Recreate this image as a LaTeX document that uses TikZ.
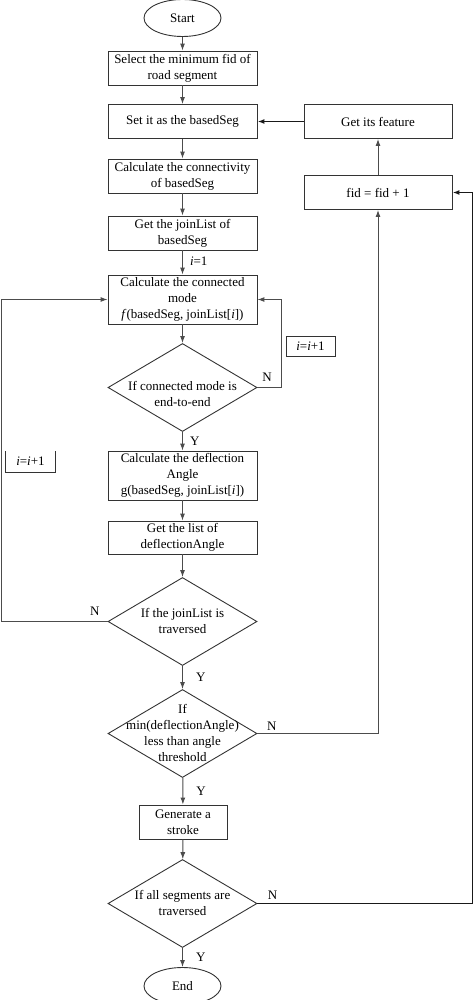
\documentclass[tikz,border=0pt]{standalone}
\usepackage{fontspec}
\setmainfont{Liberation Serif}
\usetikzlibrary{shapes.geometric, arrows.meta}
% text of a decision, kept out of the diamond size
\newcommand{\dtext}[2][-3.3pt]{\smash{\makebox[0pt]{\raisebox{#1}{\begin{tabular}{@{}c@{}}#2\end{tabular}}}}}

\begin{document}
\begin{tikzpicture}[x=1pt, y=-1pt,
    font=\fontsize{13}{16}\selectfont,
    box/.style={draw=black!80, line width=0.9pt, align=center, inner sep=2pt, minimum width=149pt, minimum height=34pt},
    term/.style={draw=black!80, line width=0.9pt, ellipse, inner sep=0pt, minimum width=77pt, minimum height=37pt},
    decision/.style={draw=black!80, line width=0.9pt, diamond, inner sep=0pt, minimum width=149pt, minimum height=88pt},
    incbox/.style={line width=0.9pt, inner sep=0pt, minimum width=49pt, minimum height=20pt},
    arr/.style={draw=black!70, line width=1pt, -{Latex[length=7pt,width=5pt]}},
    back/.style={draw=black!90, line width=1.4pt, -{Latex[length=7pt,width=5pt]}},
    lbl/.style={inner sep=1pt}]
    \useasboundingbox (0,0) rectangle (474,1000);
    % Colonne principale
    \node[term] (start) at (182.5,18) {Start};
    \node[box] (sel) at (182.5,68) {Select the minimum fid of\\road segment};
    \node[box] (set) at (182.5,121.5) {Set it as the basedSeg};
    \node[box] (conn) at (182.5,176) {Calculate the connectivity\\of basedSeg};
    \node[box] (join) at (182.5,233) {Get the joinList of\\basedSeg};
    \node[box, minimum height=49pt] (mode) at (182.5,299.5) {Calculate the connected\\mode\\\textit{f}(basedSeg, joinList[\textit{i}])};
    \node[decision] (d1) at (182.5,387.5) {\dtext[-10.5pt]{If connected mode is\\end-to-end}};
    \node[box, minimum height=49pt] (defl) at (182.5,475.5) {Calculate the deflection\\Angle\\g(basedSeg, joinList[\textit{i}])};
    \node[box, minimum height=33pt] (list) at (182.5,537.5) {Get the list of\\deflectionAngle};
    \node[decision] (d2) at (182.5,621.5) {\dtext{If the joinList is\\traversed}};
    \node[decision] (d3) at (182.5,733.5) {\dtext{If\\min(deflectionAngle)\\less than angle\\threshold}};
    \node[box, minimum width=88pt] (stroke) at (183,822) {Generate a\\stroke};
    \node[decision] (d4) at (182.5,903.5) {\dtext{If all segments are\\traversed}};
    \node[term] (end) at (182.5,986) {End};
    % Colonne droite
    \node[box, minimum width=148pt] (feat) at (378,121.5) {Get its feature};
    \node[box, minimum width=148pt] (fid) at (378,192.5) {fid = fid + 1};
    % Compteurs
    \node[incbox, draw=black!80] (incr) at (310.5,346.5) {\textit{i}=\textit{i}+1};
    \node[incbox] (incl) at (30.5,461.5) {\textit{i}=\textit{i}+1};
    \draw[black!80, line width=0.9pt] (incl.north west) |- (incl.south east) -- (incl.north east);

    % Fleches
    \foreach \a/\b in {start/sel, sel/set, set/conn, conn/join, mode/d1, defl/list, list/d2, stroke/d4} {
      \draw[arr] (\a) -- (\b);
    }
    \draw[arr] (join) -- (mode) node[lbl, pos=0.45, right, xshift=6pt] {\textit{i}=1};
    \draw[arr] (d1) -- (defl) node[lbl, pos=0.5, right, xshift=6pt] {Y};
    \draw[arr] (d2) -- (d3) node[lbl, pos=0.5, right, xshift=12pt] {Y};
    \draw[arr] (d3) -- (stroke) node[lbl, pos=0.5, right, xshift=12pt] {Y};
    \draw[arr] (d4) -- (end) node[lbl, pos=0.5, right, xshift=12pt] {Y};
    % Boucles
    \draw[arr] (d1.east) -- ++(24,0) node[lbl, pos=0.4, above, yshift=5pt] {N} |- (mode.east);
    \draw[arr] (d2.west) -- (1.5,621.5) node[lbl, pos=0.12, above, yshift=5pt] {N} |- (mode.west);
    \draw[arr] (d3.east) -| (fid.south) node[lbl, pos=0.06, above, yshift=2pt] {N};
    \draw[back] (d4.east) -- (472.5,903.5) node[lbl, pos=0.07, above, yshift=2pt] {N} |- (fid.east);
    \draw[arr] (fid) -- (feat);
    \draw[back] (feat) -- (set);
\end{tikzpicture}
\end{document}
